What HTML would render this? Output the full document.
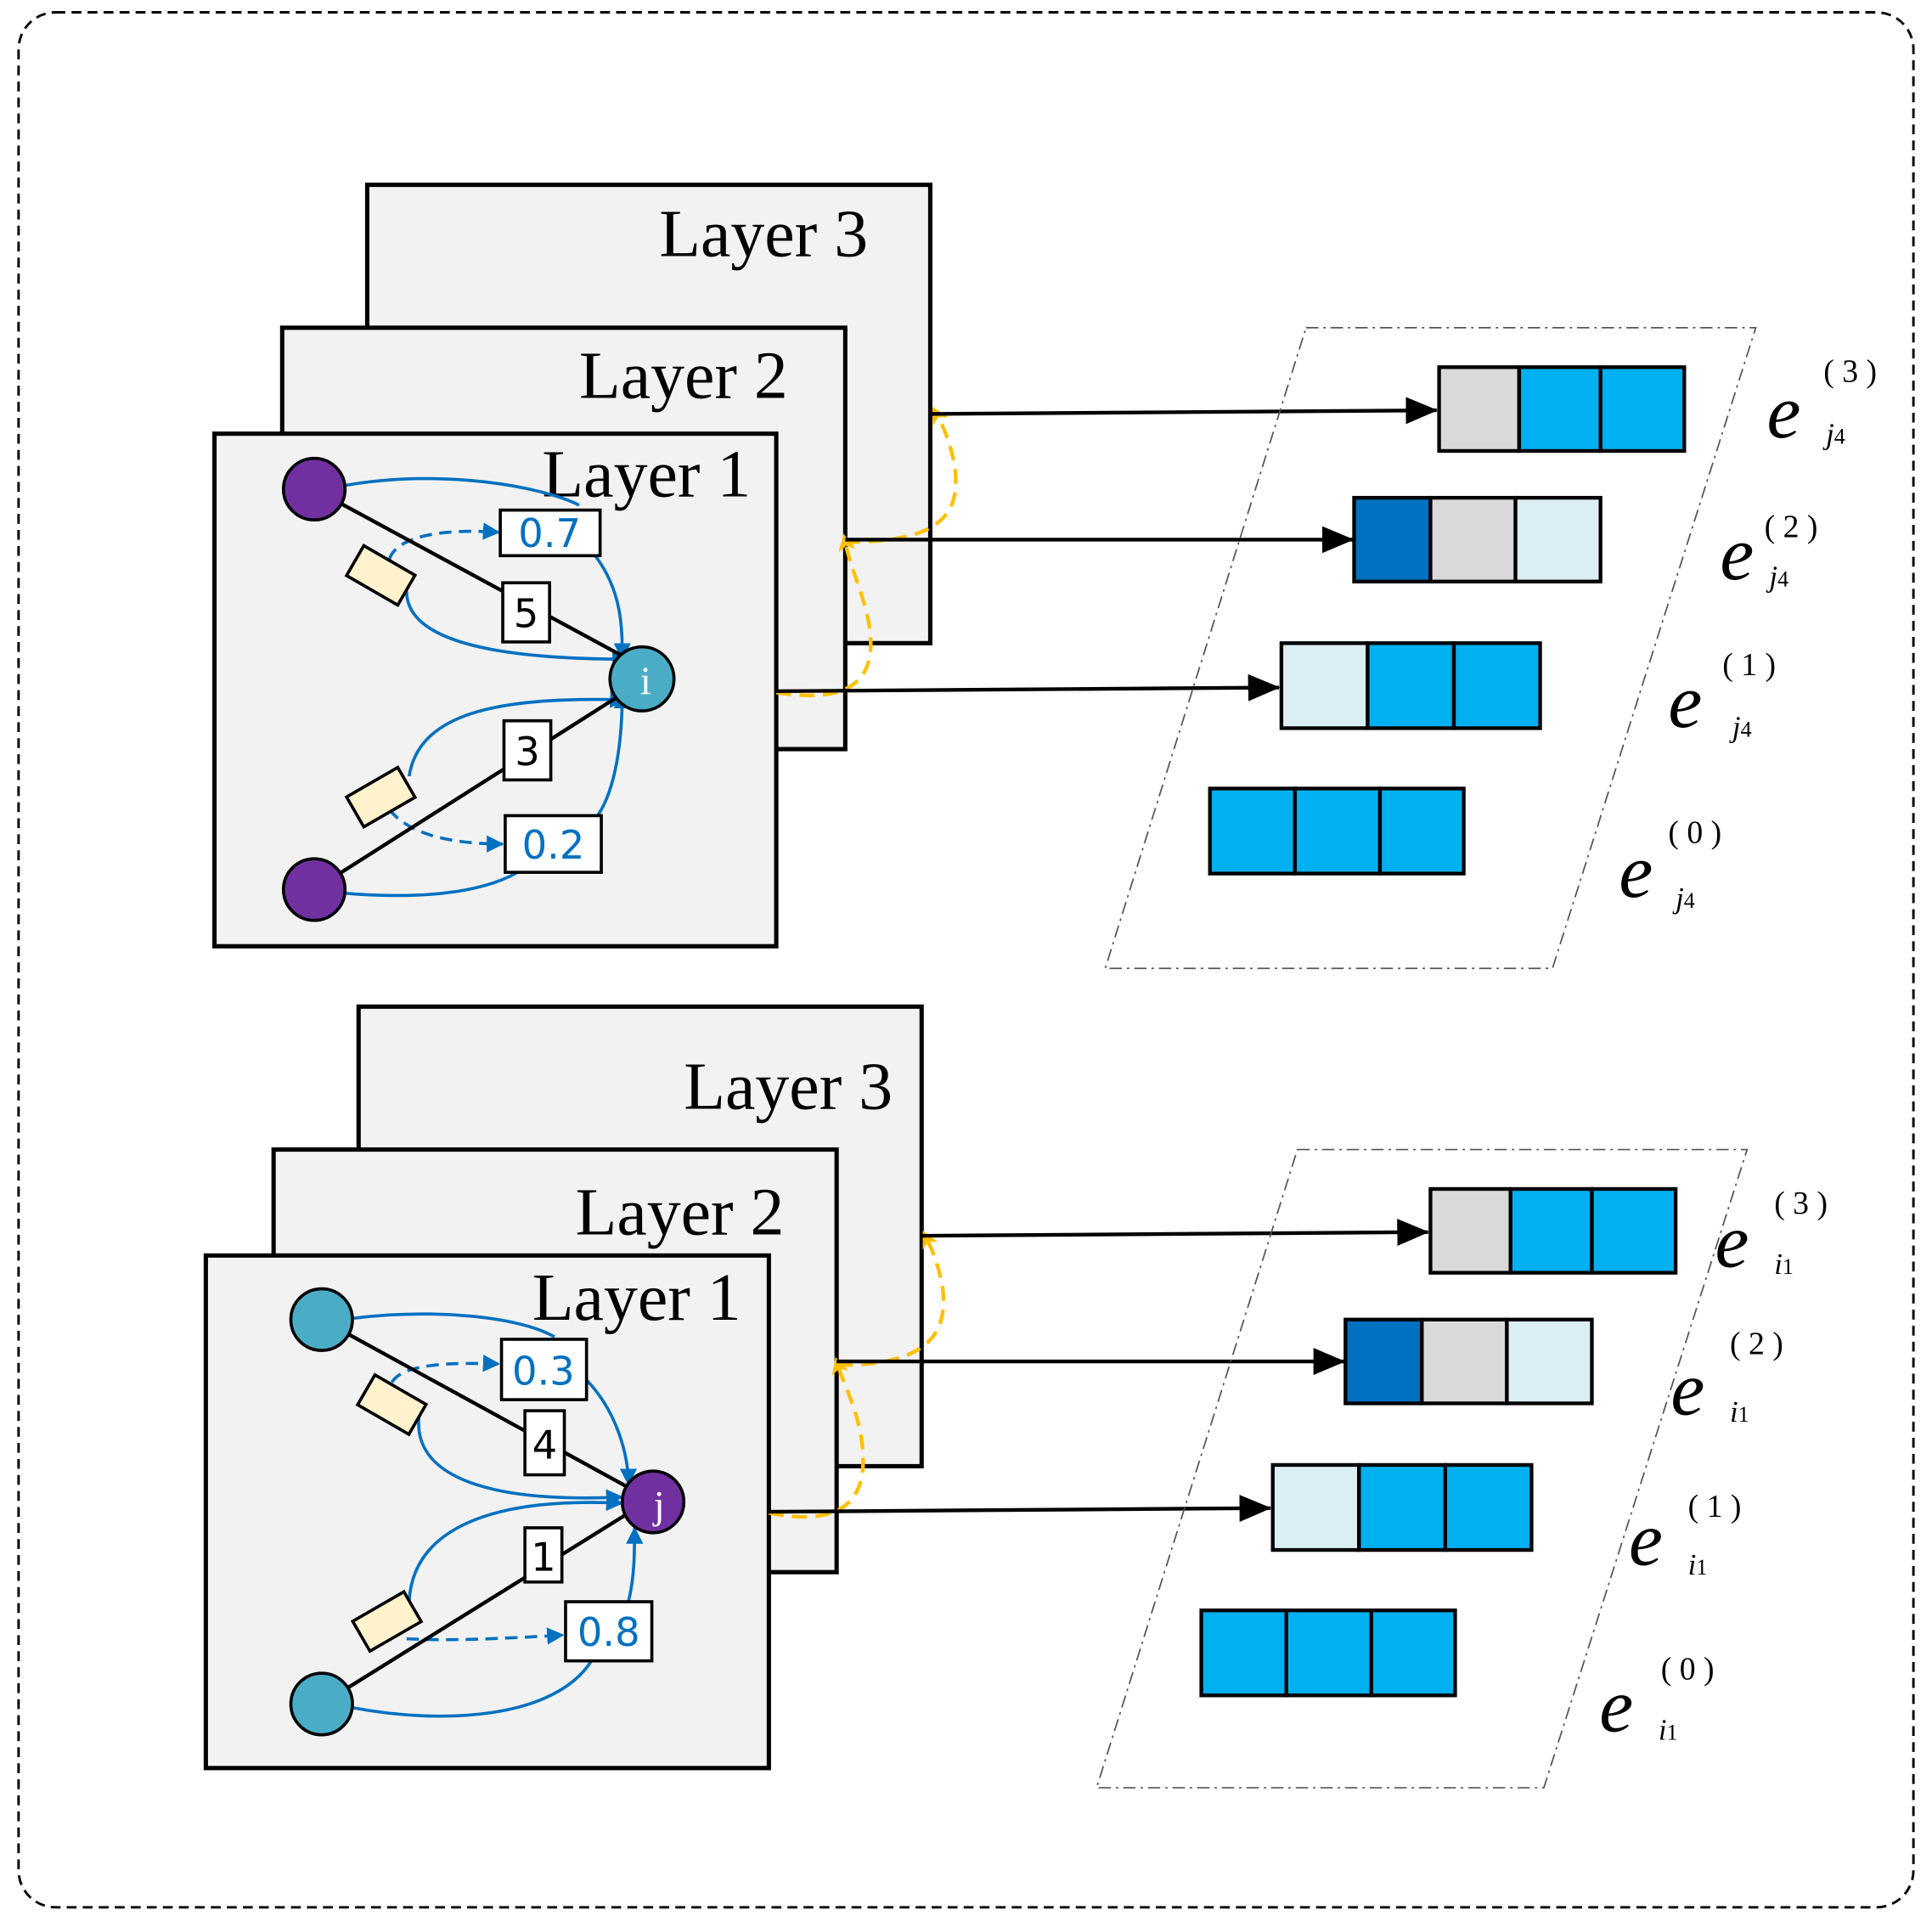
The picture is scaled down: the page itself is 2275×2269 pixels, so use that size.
<!DOCTYPE html>
<html><head><meta charset="utf-8"><style>html,body{margin:0;padding:0;background:#fff}svg{display:block}</style></head>
<body>
<svg width="2275" height="2269" viewBox="0 0 1568 1564" xmlns="http://www.w3.org/2000/svg">
<defs>
<marker id="ab" markerWidth="14" markerHeight="14" refX="13" refY="7" orient="auto" markerUnits="userSpaceOnUse"><path d="M0,0 L14,7 L0,14 z" fill="#0070C0"/></marker>
<marker id="ak" markerWidth="26" markerHeight="22" refX="25" refY="11" orient="auto" markerUnits="userSpaceOnUse"><path d="M0,0 L26,11 L0,22 z" fill="#000"/></marker>
<marker id="ay" markerWidth="14" markerHeight="14" refX="7" refY="7" orient="auto" markerUnits="userSpaceOnUse"><path d="M0,0 L14,7 L0,14 L4,7 z" fill="#FFC000"/></marker>
</defs>
<rect x="15" y="10" width="1538" height="1538" rx="30" fill="none" stroke="#000" stroke-width="2" stroke-dasharray="8,5"/>

<g id="top">
<g font-family="Liberation Serif, serif" font-size="55">
<rect x="298" y="150" width="457" height="372" fill="#F2F2F2" stroke="#000" stroke-width="3.5"/>
<text x="535" y="208">Layer 3</text>
<rect x="229" y="266" width="457" height="342" fill="#F2F2F2" stroke="#000" stroke-width="3.5"/>
<text x="470" y="323">Layer 2</text>
<rect x="174" y="352" width="456" height="416" fill="#F2F2F2" stroke="#000" stroke-width="3.5"/>
<text x="440" y="403">Layer 1</text>
</g>
<g fill="none" stroke="#0070C0" stroke-width="2.5">
<path d="M280,394 C360,380 440,395 470,410"/>
<path d="M483,451 C505,480 505,510 505,535" marker-end="url(#ab)"/>
<path d="M330,480 C330,520 400,535 510,535" marker-end="url(#ab)"/>
<path d="M280,725 C340,730 390,725 420,708"/>
<path d="M485,662 C500,640 505,600 505,562" marker-end="url(#ab)"/>
<path d="M332,630 C340,580 400,565 508,568" marker-end="url(#ab)"/>
<path d="M316,454 C320,440 345,428 405,432" stroke-dasharray="10,6" marker-end="url(#ab)"/>
<path d="M316,657 C330,675 360,685 408,685" stroke-dasharray="10,6" marker-end="url(#ab)"/>
</g>
<line x1="255" y1="397" x2="510" y2="535" stroke="#000" stroke-width="3"/>
<line x1="255" y1="722" x2="510" y2="560" stroke="#000" stroke-width="3"/>
<rect x="285" y="453" width="48" height="28" fill="#FFF2CC" stroke="#000" stroke-width="2.5" transform="rotate(30 309 467)"/>
<rect x="285" y="633" width="48" height="28" fill="#FFF2CC" stroke="#000" stroke-width="2.5" transform="rotate(-30 309 647)"/>
<circle cx="255" cy="397" r="25" fill="#7030A0" stroke="#000" stroke-width="2.5"/>
<circle cx="255" cy="722" r="25" fill="#7030A0" stroke="#000" stroke-width="2.5"/>
<circle cx="521" cy="551" r="26" fill="#4BACC6" stroke="#000" stroke-width="2.5"/>
<text x="524" y="563" font-family="Liberation Serif, serif" font-size="32" fill="#fff" text-anchor="middle">i</text>
<g font-family="DejaVu Sans, sans-serif" font-size="32" text-anchor="middle">
<rect x="408" y="473" width="38" height="48" fill="#fff" stroke="#000" stroke-width="2.5"/><text x="427" y="509">5</text>
<rect x="409" y="585" width="38" height="48" fill="#fff" stroke="#000" stroke-width="2.5"/><text x="428" y="621">3</text>
<rect x="406" y="414" width="81" height="37" fill="#fff" stroke="#000" stroke-width="2.5"/><text x="446" y="444" fill="#0070C0">0.7</text>
<rect x="410" y="662" width="78" height="46" fill="#fff" stroke="#000" stroke-width="2.5"/><text x="449" y="697" fill="#0070C0">0.2</text>
</g>
<g fill="none" stroke="#FFC000" stroke-width="3" stroke-dasharray="12,7">
<path d="M630,562 C680,570 715,560 705,505 C700,480 690,460 686,440" marker-end="url(#ay)"/>
<path d="M686,440 C760,440 780,420 775,380 C772,360 765,345 760,336" marker-end="url(#ay)"/>
</g>
<g stroke="#000" stroke-width="3">
<line x1="630" y1="561" x2="1038" y2="558" marker-end="url(#ak)"/>
<line x1="686" y1="438" x2="1098" y2="438" marker-end="url(#ak)"/>
<line x1="755" y1="336" x2="1166" y2="333" marker-end="url(#ak)"/>
</g>
<polygon points="1060,266 1425,266 1260,786 897,786" fill="none" stroke="#555" stroke-width="1.2" stroke-dasharray="10,4,2,4"/>
<g stroke="#000" stroke-width="3">
<rect x="1168" y="298" width="65" height="68" fill="#D9D9D9"/><rect x="1233" y="298" width="66" height="68" fill="#00B0F0"/><rect x="1299" y="298" width="68" height="68" fill="#00B0F0"/>
<rect x="1099" y="404" width="62" height="68" fill="#0070C0"/><rect x="1161" y="404" width="69" height="68" fill="#D9D9D9"/><rect x="1230" y="404" width="69" height="68" fill="#DAEEF3"/>
<rect x="1040" y="522" width="70" height="69" fill="#DAEEF3"/><rect x="1110" y="522" width="70" height="69" fill="#00B0F0"/><rect x="1180" y="522" width="70" height="69" fill="#00B0F0"/>
<rect x="982" y="640" width="69" height="69" fill="#00B0F0"/><rect x="1051" y="640" width="69" height="69" fill="#00B0F0"/><rect x="1120" y="640" width="68" height="69" fill="#00B0F0"/>
</g>
<g font-family="Liberation Serif, serif" font-style="italic">
<text x="1434" y="355" font-size="62">e</text><text x="1480" y="310" font-size="26" font-style="normal">( 3 )</text><text x="1482" y="360" font-size="24">j<tspan font-size="18" font-style="normal">4</tspan></text>
<text x="1396" y="470" font-size="62">e</text><text x="1432" y="436" font-size="26" font-style="normal">( 2 )</text><text x="1436" y="476" font-size="24">j<tspan font-size="18" font-style="normal">4</tspan></text>
<text x="1354" y="590" font-size="62">e</text><text x="1398" y="548" font-size="26" font-style="normal">( 1 )</text><text x="1406" y="598" font-size="24">j<tspan font-size="18" font-style="normal">4</tspan></text>
<text x="1314" y="728" font-size="62">e</text><text x="1354" y="684" font-size="26" font-style="normal">( 0 )</text><text x="1360" y="737" font-size="24">j<tspan font-size="18" font-style="normal">4</tspan></text>
</g>
</g>

<g id="bottom">
<g font-family="Liberation Serif, serif" font-size="55">
<rect x="291" y="817" width="457" height="373" fill="#F2F2F2" stroke="#000" stroke-width="3.5"/>
<text x="555" y="900">Layer 3</text>
<rect x="222" y="933" width="457" height="343" fill="#F2F2F2" stroke="#000" stroke-width="3.5"/>
<text x="467" y="1002">Layer 2</text>
<rect x="167" y="1019" width="457" height="416" fill="#F2F2F2" stroke="#000" stroke-width="3.5"/>
<text x="432" y="1071">Layer 1</text>
</g>
<g fill="none" stroke="#0070C0" stroke-width="2.5">
<path d="M286,1070 C350,1062 420,1068 450,1085"/>
<path d="M476,1120 C500,1145 510,1180 510,1205" marker-end="url(#ab)"/>
<path d="M340,1150 C335,1200 400,1220 505,1215" marker-end="url(#ab)"/>
<path d="M286,1386 C360,1400 450,1395 480,1348"/>
<path d="M510,1300 C515,1280 515,1260 515,1240" marker-end="url(#ab)"/>
<path d="M332,1300 C335,1240 400,1215 505,1220" marker-end="url(#ab)"/>
<path d="M318,1122 C325,1110 350,1105 405,1107" stroke-dasharray="10,6" marker-end="url(#ab)"/>
<path d="M330,1330 C360,1332 410,1330 457,1327" stroke-dasharray="10,6" marker-end="url(#ab)"/>
</g>
<line x1="261" y1="1071" x2="515" y2="1210" stroke="#000" stroke-width="3"/>
<line x1="261" y1="1383" x2="515" y2="1225" stroke="#000" stroke-width="3"/>
<rect x="294" y="1126" width="48" height="28" fill="#FFF2CC" stroke="#000" stroke-width="2.5" transform="rotate(30 318 1140)"/>
<rect x="290" y="1302" width="48" height="28" fill="#FFF2CC" stroke="#000" stroke-width="2.5" transform="rotate(-30 314 1316)"/>
<circle cx="261" cy="1071" r="25" fill="#4BACC6" stroke="#000" stroke-width="2.5"/>
<circle cx="261" cy="1383" r="25" fill="#4BACC6" stroke="#000" stroke-width="2.5"/>
<circle cx="530" cy="1219" r="25" fill="#7030A0" stroke="#000" stroke-width="2.5"/>
<text x="535" y="1232" font-family="Liberation Serif, serif" font-size="32" fill="#fff" text-anchor="middle">j</text>
<g font-family="DejaVu Sans, sans-serif" font-size="32" text-anchor="middle">
<rect x="426" y="1145" width="32" height="52" fill="#fff" stroke="#000" stroke-width="2.5"/><text x="442" y="1184">4</text>
<rect x="426" y="1240" width="30" height="44" fill="#fff" stroke="#000" stroke-width="2.5"/><text x="441" y="1275">1</text>
<rect x="407" y="1087" width="69" height="49" fill="#fff" stroke="#000" stroke-width="2.5"/><text x="441" y="1124" fill="#0070C0">0.3</text>
<rect x="459" y="1300" width="70" height="48" fill="#fff" stroke="#000" stroke-width="2.5"/><text x="494" y="1336" fill="#0070C0">0.8</text>
</g>
<g fill="none" stroke="#FFC000" stroke-width="3" stroke-dasharray="12,7">
<path d="M624,1228 C675,1238 705,1225 700,1175 C697,1145 685,1125 680,1108" marker-end="url(#ay)"/>
<path d="M680,1108 C750,1108 770,1085 765,1045 C762,1028 757,1015 752,1005" marker-end="url(#ay)"/>
</g>
<g stroke="#000" stroke-width="3">
<line x1="624" y1="1227" x2="1031" y2="1224" marker-end="url(#ak)"/>
<line x1="679" y1="1105" x2="1091" y2="1105" marker-end="url(#ak)"/>
<line x1="748" y1="1003" x2="1159" y2="1000" marker-end="url(#ak)"/>
</g>
<polygon points="1053,933 1418,933 1253,1451 890,1451" fill="none" stroke="#555" stroke-width="1.2" stroke-dasharray="10,4,2,4"/>
<g stroke="#000" stroke-width="3">
<rect x="1161" y="965" width="65" height="68" fill="#D9D9D9"/><rect x="1226" y="965" width="66" height="68" fill="#00B0F0"/><rect x="1292" y="965" width="68" height="68" fill="#00B0F0"/>
<rect x="1092" y="1071" width="62" height="68" fill="#0070C0"/><rect x="1154" y="1071" width="69" height="68" fill="#D9D9D9"/><rect x="1223" y="1071" width="69" height="68" fill="#DAEEF3"/>
<rect x="1033" y="1189" width="70" height="69" fill="#DAEEF3"/><rect x="1103" y="1189" width="70" height="69" fill="#00B0F0"/><rect x="1173" y="1189" width="70" height="69" fill="#00B0F0"/>
<rect x="975" y="1307" width="69" height="69" fill="#00B0F0"/><rect x="1044" y="1307" width="69" height="69" fill="#00B0F0"/><rect x="1113" y="1307" width="68" height="69" fill="#00B0F0"/>
</g>
<g font-family="Liberation Serif, serif" font-style="italic">
<text x="1392" y="1028" font-size="62">e</text><text x="1440" y="985" font-size="26" font-style="normal">( 3 )</text><text x="1440" y="1034" font-size="24">i<tspan font-size="18" font-style="normal">1</tspan></text>
<text x="1356" y="1148" font-size="62">e</text><text x="1404" y="1099" font-size="26" font-style="normal">( 2 )</text><text x="1404" y="1154" font-size="24">i<tspan font-size="18" font-style="normal">1</tspan></text>
<text x="1322" y="1270" font-size="62">e</text><text x="1370" y="1231" font-size="26" font-style="normal">( 1 )</text><text x="1370" y="1278" font-size="24">i<tspan font-size="18" font-style="normal">1</tspan></text>
<text x="1298" y="1405" font-size="62">e</text><text x="1348" y="1363" font-size="26" font-style="normal">( 0 )</text><text x="1346" y="1412" font-size="24">i<tspan font-size="18" font-style="normal">1</tspan></text>
</g>
</g>
</svg>
</body></html>
